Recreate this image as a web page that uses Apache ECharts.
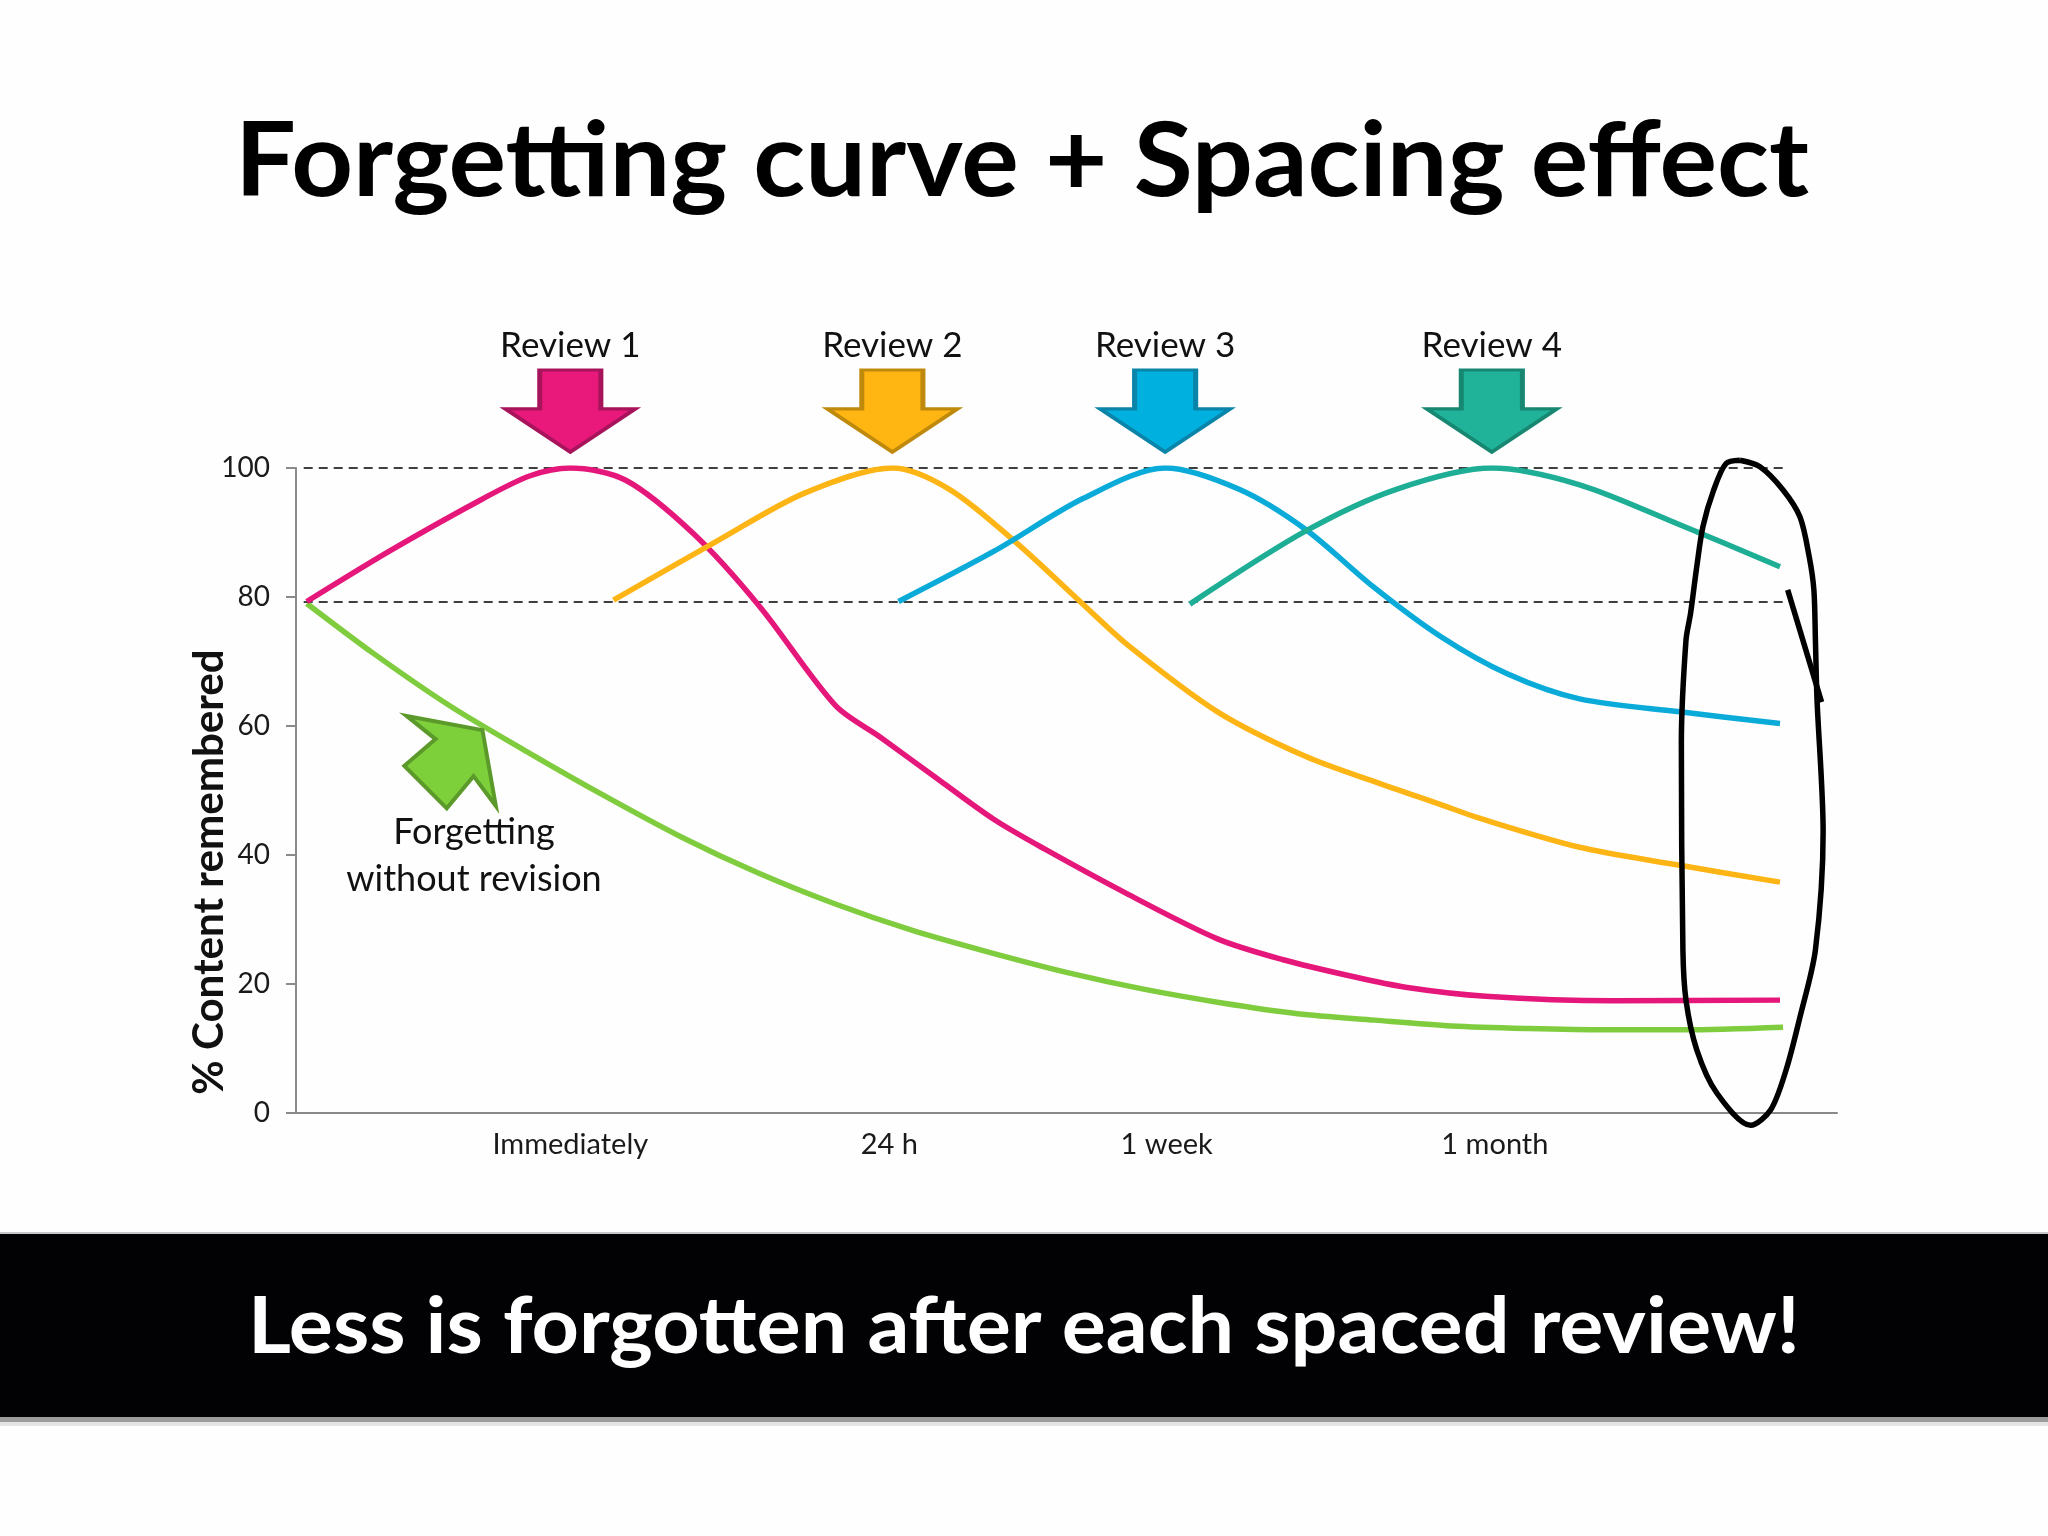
<!DOCTYPE html>
<html>
<head>
<meta charset="utf-8">
<script src="https://cdn.jsdelivr.net/npm/echarts@6/dist/echarts.min.js"></script>
<style>
html,body{margin:0;padding:0;background:#fefefe;}
#chart{width:2048px;height:1536px;}
</style>
</head>
<body>
<div id="chart"></div>
<script>
// ---------- data (x: position along time axis, 0..100; y: % content remembered) ----------
const titleText = 'Forgetting curve + Spacing effect';
const bannerText = 'Less is forgotten after each spaced review!';
const yAxisName = '% Content remembered';

const xTickValues = [17.8, 38.5, 56.5, 77.8];
const xTickLabels = ['Immediately', '24 h', '1 week', '1 month'];

const reviewLabels = ['Review 1', 'Review 2', 'Review 3', 'Review 4'];
const reviewPeaks = [17.8, 38.7, 56.4, 77.6];

const noRevision = [[0.7,79],[5,71.3],[10,63.1],[15,56.0],[20,49.2],[25,42.8],[30,37.2],[35,32.4],[40,28.3],[45,24.9],[50,21.8],[55,19.2],[60,17.1],[65,15.4],[70,14.4],[75,13.5],[80,13.1],[85,12.9],[90,12.9],[96.5,13.3]];
const review1 = [[0.7,79.3],[6.2,87.3],[12.1,95.2],[15.2,98.8],[17.8,100],[21.4,98.1],[25.8,89.8],[30.1,78.5],[35,63.2],[37.9,58.3],[41.8,51.5],[45.3,45.5],[48.6,40.9],[54.0,33.9],[59.8,27.0],[64,23.8],[68.5,21.2],[72,19.5],[77.2,18.1],[85.5,17.4],[96.3,17.5]];
const review2 = [[20.6,79.5],[27.2,88.5],[33.0,96.1],[38.7,100],[42.4,96.7],[46.7,88.5],[51.1,78.8],[54.0,72.5],[59.8,62.2],[65.5,55.3],[70.3,51.1],[74.2,47.9],[76.8,45.7],[83.3,41.2],[89.8,38.4],[96.3,35.8]];
const review3 = [[39.1,79.3],[45.3,87.1],[51.1,95.3],[56.4,100],[61.2,96.7],[65.5,90.5],[69.9,81.6],[74.2,74.0],[78.6,68.1],[83.3,64.2],[89.8,62.2],[96.3,60.4]];
const review4 = [[58.0,78.9],[65.5,90.2],[71.4,96.7],[77.6,100],[83.3,97.4],[89.8,91.2],[96.3,84.7]];

const refLevels = [100, 79.2];
const refLineStart = 0.5, refLineEnd = 96.6;

// hand-drawn annotation loop around the end values (data coords)
const loopPath = [[93.7,101.2],[95.0,100.2],[96.5,96.6],[97.6,92.4],[98.2,86.2],[98.5,81.1],[98.6,73.3],[98.7,64.3],[99.1,43.6],[98.6,25.3],[97.6,14.9],[96.7,6.7],[95.7,0.5],[94.4,-1.9],[92.2,3.1],[90.9,9.8],[90.2,17.5],[90.0,25.3],[89.9,57.4],[90.2,73.3],[90.5,77.5],[90.9,84.7],[91.3,90.9],[92.0,96.6],[92.8,100.7],[93.7,101.2]];
const loopTail = [[96.8,81.1],[99.0,63.7]];

// ---------- helpers ----------
function textWidth(text, font){
  const c = document.createElement('canvas').getContext('2d');
  c.font = font;
  return c.measureText(text).width;
}
const FONT = 'Lato, "Open Sans", "Noto Sans", sans-serif';

const colors = {
  green:'#80CC3F', pink:'#E5177A', orange:'#FDB515', blue:'#0AAAD9', teal:'#1DAE95'
};
const arrowFill = ['#E8197B','#FFB612','#00B0DF','#20B39A'];
const arrowStroke = ['#A8145B','#BF8A0C','#0A84A8','#178772'];
const downArrow = 'path://M26.5,0 L73.5,0 L73.5,47.5 L100,47.5 L50,100 L0,47.5 L26.5,47.5 Z';
const upRightArrow = 'path://M2.2,0 L78.1,14.2 L91.5,90.1 L69.2,60.2 L42.4,92.4 L0,49.9 L31.2,23.2 Z';

const chart = echarts.init(document.getElementById('chart'), null, {renderer:'canvas'});

const reviewData = [review1, review2, review3, review4];
const reviewColors = [colors.pink, colors.orange, colors.blue, colors.teal];

const series = [];
series.push({
  name:'Forgetting without revision', type:'line', data:noRevision, smooth:0.3,
  showSymbol:false, z:3,
  lineStyle:{color:colors.green, width:5.5},
  markLine:{
    silent:true, symbol:['none','none'], z:1,
    lineStyle:{color:'#3f3f3f', width:2, type:[9,6]},
    label:{show:false},
    data: refLevels.map(v => [{coord:[refLineStart, v]}, {coord:[refLineEnd, v]}])
  },
  markPoint:{
    silent:true,
    data:[
      {coord:[10.0, 54.4], symbol:upRightArrow, symbolSize:[91.5, 92.4],
       itemStyle:{color:'#7ED03B', borderColor:'#5B9A2A', borderWidth:4}, label:{show:false}},
      {coord:[11.55, 39.8], symbol:'circle', symbolSize:1,
       itemStyle:{color:'rgba(0,0,0,0)'},
       label:{show:true, position:'inside', formatter:'Forgetting\nwithout revision',
              fontFamily:FONT, fontSize:36, lineHeight:47, color:'#111', align:'center'}}
    ]
  }
});
reviewData.forEach((d, i) => {
  series.push({
    name:reviewLabels[i], type:'line', data:d, smooth:0.3, showSymbol:false, z:3+i,
    lineStyle:{color:reviewColors[i], width:5.5},
    markPoint:{
      silent:true,
      data:[{
        coord:[reviewPeaks[i], 100], symbol:downArrow, symbolSize:[130, 82], symbolOffset:[0, -57],
        itemStyle:{color:arrowFill[i], borderColor:arrowStroke[i], borderWidth:4},
        label:{show:true, position:'top', distance:5, formatter:reviewLabels[i],
               fontFamily:FONT, fontSize:35, color:'#111'}
      }]
    }
  });
});
series.push({
  name:'loop', type:'line', data:loopPath, smooth:0.3, showSymbol:false, clip:false, silent:true, z:10,
  lineStyle:{color:'#000', width:5.5}
});
series.push({
  name:'loopTail', type:'line', data:loopTail, smooth:false, showSymbol:false, clip:false, silent:true, z:10,
  lineStyle:{color:'#000', width:5.5}
});

// text fitting
const titleFont = 'bold 104px ' + FONT;
const titleScale = 1574 / textWidth(titleText, titleFont);
const bannerFont = 'bold 78px ' + FONT;
const bannerScale = 1552 / textWidth(bannerText, bannerFont);
const yNameSize = Math.min(44, 38 * 446 / textWidth(yAxisName, 'bold 38px ' + FONT));

chart.setOption({
  animation:false,
  backgroundColor:'#fefefe',
  grid:{left:296, right:211, top:468, bottom:423, containLabel:false},
  xAxis:{
    type:'value', min:0, max:100,
    axisLine:{show:true, lineStyle:{color:'#8a8a8a', width:2}},
    axisTick:{show:false},
    splitLine:{show:false},
    axisLabel:{
      customValues:xTickValues,
      formatter:function(v){
        let best = 0;
        xTickValues.forEach((t, i) => { if (Math.abs(t - v) < Math.abs(xTickValues[best] - v)) best = i; });
        return xTickLabels[best];
      },
      fontFamily:FONT, fontSize:29, color:'#1a1a1a', margin:17
    }
  },
  yAxis:{
    type:'value', min:0, max:100, interval:20,
    axisLine:{show:true, lineStyle:{color:'#8a8a8a', width:2}},
    axisTick:{show:true, length:10, lineStyle:{color:'#8a8a8a', width:2}},
    splitLine:{show:false},
    axisLabel:{fontFamily:FONT, fontSize:28, color:'#1a1a1a', margin:26}
  },
  series:series,
  graphic:[
    {type:'text', x:1022, y:162, scaleX:titleScale, z:100,
     style:{text:titleText, x:0, y:0, align:'center', verticalAlign:'middle', font:titleFont, fill:'#000'}},
    {type:'text', x:209, y:872, rotation:Math.PI/2, z:100,
     style:{text:yAxisName, x:0, y:0, align:'center', verticalAlign:'middle',
            font:'bold ' + yNameSize.toFixed(1) + 'px ' + FONT, fill:'#111'}},
    {type:'rect', z:50, shape:{x:0, y:1232, width:2048, height:2}, style:{fill:'#c8c8c8'}},
    {type:'rect', z:50, shape:{x:0, y:1234, width:2048, height:183}, style:{fill:'#020103'}},
    {type:'rect', z:50, shape:{x:0, y:1417, width:2048, height:5}, style:{fill:'#9c9c9c'}},
    {type:'rect', z:50, shape:{x:0, y:1422, width:2048, height:4}, style:{fill:'#e4e4e4'}},
    {type:'text', x:1024, y:1328, scaleX:bannerScale, z:101,
     style:{text:bannerText, x:0, y:0, align:'center', verticalAlign:'middle', font:bannerFont, fill:'#fff'}}
  ]
});
</script>
</body>
</html>
